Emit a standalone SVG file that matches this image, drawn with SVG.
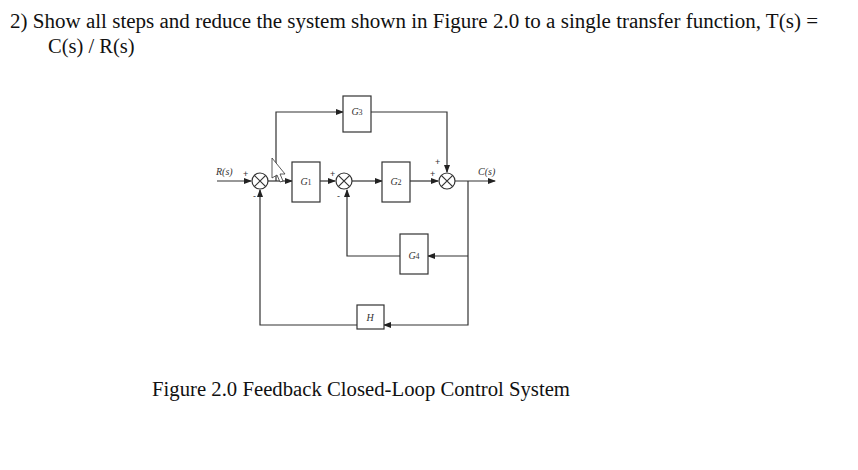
<svg xmlns="http://www.w3.org/2000/svg" width="858" height="470" viewBox="0 0 858 470">
<defs>
<marker id="ar" markerWidth="8" markerHeight="6" refX="7" refY="3" orient="auto" markerUnits="userSpaceOnUse"><path d="M0,0 L8,3 L0,6 z" fill="#222"/></marker>
<style>
.t{font-family:"Liberation Serif",serif;fill:#111}
.b{fill:#fff;stroke:#333;stroke-width:1.2}
.l{fill:none;stroke:#333;stroke-width:1.2}
.s{font-family:"Liberation Serif",serif;font-style:italic;font-size:10px;fill:#333}
.p{font-family:"Liberation Sans",sans-serif;font-size:9px;fill:#333}
</style>
</defs>
<rect width="858" height="470" fill="#fff"/>
<text class="t" x="10" y="28" font-size="20.5" textLength="808" lengthAdjust="spacingAndGlyphs">2)  Show all steps and reduce the system shown in Figure 2.0 to a single transfer function, T(s) =</text>
<text class="t" x="48" y="53" font-size="20.5">C(s) / R(s)</text>
<text class="t" x="152" y="396" font-size="20.5" textLength="418" lengthAdjust="spacingAndGlyphs">Figure 2.0 Feedback Closed-Loop Control System</text>
<g id="connectors">
<path class="l" d="M217,181 H251" marker-end="url(#ar)"/>
<path class="l" d="M268,181 H292" marker-end="url(#ar)"/>
<path class="l" d="M276,181 V112 H343" marker-end="url(#ar)"/>
<path class="l" d="M371,112 H447 V172" marker-end="url(#ar)"/>
<path class="l" d="M320,181 H335" marker-end="url(#ar)"/>
<path class="l" d="M352,181 H382" marker-end="url(#ar)"/>
<path class="l" d="M410,181 H438" marker-end="url(#ar)"/>
<path class="l" d="M455,181 H495" marker-end="url(#ar)"/>
<path class="l" d="M468,181 V325 H384" marker-end="url(#ar)"/>
<path class="l" d="M468,256 H428" marker-end="url(#ar)"/>
<path class="l" d="M400,256 H347 V190" marker-end="url(#ar)"/>
<path class="l" d="M357,325 H260 V190" marker-end="url(#ar)"/>
</g>
<g id="sum1"><circle class="b" cx="260" cy="181" r="8"/><path class="l" d="M254.3,175.3 L265.7,186.7 M265.7,175.3 L254.3,186.7"/></g>
<g id="sum2"><circle class="b" cx="344" cy="181" r="8"/><path class="l" d="M338.3,175.3 L349.7,186.7 M349.7,175.3 L338.3,186.7"/></g>
<g id="sum3"><circle class="b" cx="447" cy="181" r="8"/><path class="l" d="M441.3,175.3 L452.7,186.7 M452.7,175.3 L441.3,186.7"/></g>
<g id="G1"><rect class="b" x="292" y="162" width="28" height="40"/><text class="s" x="306" y="185" text-anchor="middle">G<tspan font-size="8" font-style="normal">1</tspan></text></g>
<g id="G2"><rect class="b" x="382" y="162" width="28" height="40"/><text class="s" x="396" y="185" text-anchor="middle">G<tspan font-size="8" font-style="normal">2</tspan></text></g>
<g id="G3"><rect class="b" x="343" y="96" width="28" height="36"/><text class="s" x="357" y="115" text-anchor="middle">G<tspan font-size="8" font-style="normal">3</tspan></text></g>
<g id="G4"><rect class="b" x="400" y="234" width="28" height="40"/><text class="s" x="414" y="259" text-anchor="middle">G<tspan font-size="8" font-style="normal">4</tspan></text></g>
<g id="H"><rect class="b" x="357" y="305" width="27" height="24"/><text class="s" x="370" y="321" text-anchor="middle" font-size="9">H</text></g>
<text class="s" x="216" y="175" font-size="9">R(s)</text>
<text class="s" x="478" y="175" font-size="9">C(s)</text>
<text class="p" x="243" y="177">+</text>
<text class="p" x="253" y="199">-</text>
<text class="p" x="330" y="177">+</text>
<text class="p" x="337" y="199">-</text>
<text class="p" x="430" y="177">+</text>
<text class="p" x="435" y="165">+</text>
<path d="M272,158 L285,174 L280,174 L283,181 L280,182 L277,175 L272,178 z" fill="#fff" stroke="#333" stroke-width="0.8"/>
</svg>
